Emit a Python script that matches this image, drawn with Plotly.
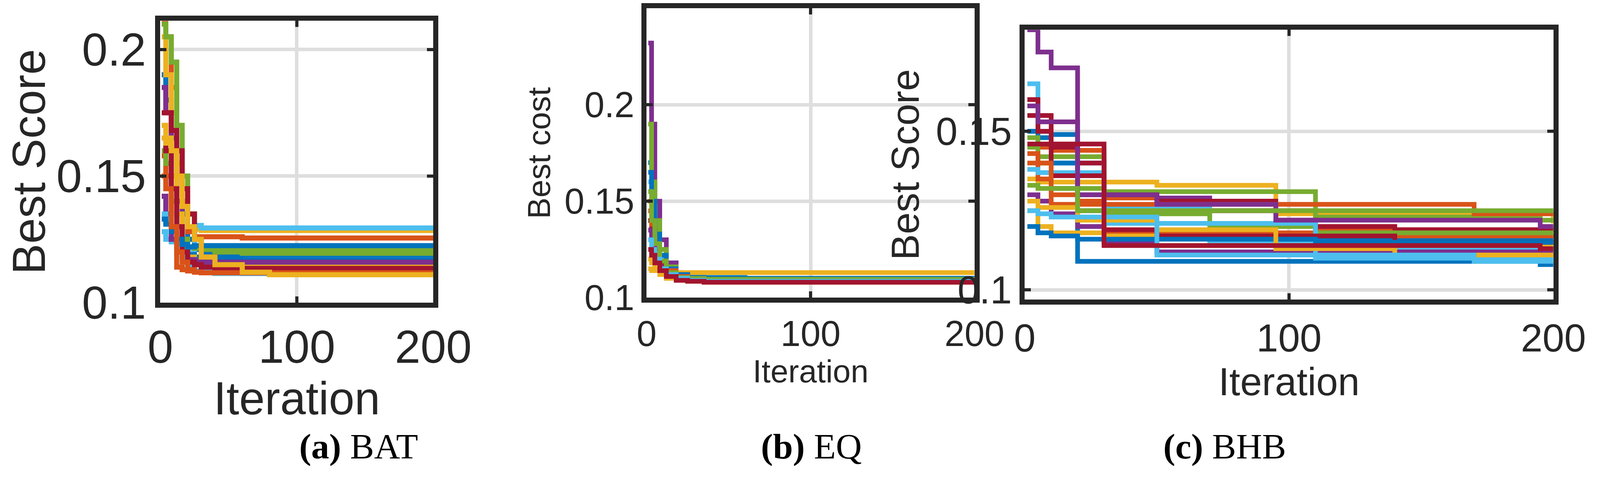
import plotly.graph_objects as go

COLORS = ["#0072BD", "#D95319", "#EDB120", "#7E2F8E", "#77AC30", "#4DBEEE", "#A2142F"]

# Panel (a) BAT
a_iter = [1, 4, 8, 12, 16, 20, 25, 30, 40, 60, 80, 200]
a_series = [
    [0.190, 0.180, 0.165, 0.150, 0.135, 0.125, 0.121, 0.120, 0.1195, 0.119, 0.119, 0.119],
    [0.211, 0.205, 0.185, 0.160, 0.140, 0.128, 0.126, 0.126, 0.126, 0.1255, 0.1255, 0.1255],
    [0.205, 0.190, 0.175, 0.155, 0.140, 0.130, 0.129, 0.1285, 0.1285, 0.1285, 0.1285, 0.1285],
    [0.185, 0.175, 0.160, 0.140, 0.125, 0.117, 0.115, 0.1145, 0.1145, 0.1145, 0.1145, 0.1145],
    [0.210, 0.205, 0.195, 0.170, 0.150, 0.135, 0.125, 0.121, 0.120, 0.1195, 0.1195, 0.1195],
    [0.128, 0.125, 0.124, 0.123, 0.122, 0.121, 0.1305, 0.1295, 0.1295, 0.1295, 0.1295, 0.1295],
    [0.175, 0.175, 0.168, 0.160, 0.145, 0.135, 0.125, 0.118, 0.116, 0.1115, 0.1115, 0.1115],
    [0.165, 0.155, 0.145, 0.135, 0.125, 0.119, 0.118, 0.1175, 0.1175, 0.117, 0.117, 0.117],
    [0.158, 0.150, 0.125, 0.114, 0.113, 0.1125, 0.1125, 0.1125, 0.1125, 0.1125, 0.1125, 0.1125],
    [0.170, 0.165, 0.150, 0.135, 0.125, 0.118, 0.1165, 0.116, 0.1155, 0.1155, 0.1155, 0.1155],
    [0.142, 0.135, 0.125, 0.120, 0.118, 0.117, 0.1165, 0.116, 0.116, 0.116, 0.116, 0.116],
    [0.160, 0.155, 0.140, 0.130, 0.125, 0.122, 0.1215, 0.1215, 0.121, 0.121, 0.121, 0.121],
    [0.135, 0.133, 0.130, 0.125, 0.118, 0.114, 0.1125, 0.112, 0.1115, 0.1115, 0.1115, 0.1115],
    [0.165, 0.160, 0.145, 0.130, 0.120, 0.116, 0.115, 0.114, 0.1135, 0.1135, 0.1135, 0.1135],
    [0.133, 0.131, 0.128, 0.125, 0.123, 0.122, 0.1225, 0.1225, 0.1225, 0.1225, 0.1225, 0.1225],
    [0.150, 0.145, 0.130, 0.120, 0.116, 0.113, 0.112, 0.1118, 0.1118, 0.1118, 0.1118, 0.1118],
    [0.165, 0.163, 0.160, 0.150, 0.138, 0.130, 0.125, 0.118, 0.115, 0.112, 0.111, 0.111],
]

# Panel (b) EQ
b_iter = [1, 3, 5, 8, 12, 18, 25, 35, 60, 200]
b_series = [
    [0.170, 0.150, 0.135, 0.125, 0.118, 0.113, 0.111, 0.1105, 0.110, 0.110],
    [0.150, 0.140, 0.130, 0.120, 0.114, 0.111, 0.110, 0.1095, 0.1095, 0.1095],
    [0.115, 0.114, 0.114, 0.113, 0.113, 0.113, 0.113, 0.113, 0.113, 0.113],
    [0.232, 0.190, 0.150, 0.130, 0.118, 0.112, 0.110, 0.1095, 0.1095, 0.1095],
    [0.190, 0.160, 0.140, 0.125, 0.116, 0.112, 0.110, 0.110, 0.110, 0.110],
    [0.160, 0.145, 0.130, 0.120, 0.114, 0.111, 0.1105, 0.110, 0.110, 0.110],
    [0.140, 0.135, 0.125, 0.118, 0.113, 0.111, 0.110, 0.1095, 0.1095, 0.1095],
    [0.165, 0.150, 0.133, 0.122, 0.115, 0.112, 0.1105, 0.110, 0.110, 0.110],
    [0.145, 0.138, 0.128, 0.119, 0.114, 0.111, 0.110, 0.1095, 0.1095, 0.1095],
    [0.120, 0.118, 0.115, 0.112, 0.110, 0.109, 0.1085, 0.108, 0.108, 0.108],
    [0.135, 0.130, 0.122, 0.116, 0.112, 0.110, 0.1095, 0.109, 0.109, 0.109],
    [0.155, 0.140, 0.128, 0.119, 0.113, 0.1105, 0.110, 0.1095, 0.1095, 0.1095],
    [0.130, 0.125, 0.120, 0.115, 0.112, 0.110, 0.109, 0.1085, 0.1085, 0.1085],
    [0.125, 0.122, 0.118, 0.114, 0.111, 0.109, 0.1085, 0.108, 0.108, 0.108],
]

# Panel (c) BHB
c_iter = [1, 5, 10, 20, 30, 50, 70, 95, 110, 140, 170, 195, 200]
c_series = [
    [0.150, 0.150, 0.149, 0.109, 0.109, 0.109, 0.109, 0.109, 0.109, 0.109, 0.109, 0.108, 0.108],
    [0.160, 0.145, 0.144, 0.144, 0.129, 0.125, 0.125, 0.125, 0.119, 0.119, 0.119, 0.117, 0.117],
    [0.135, 0.134, 0.134, 0.134, 0.134, 0.133, 0.133, 0.124, 0.124, 0.124, 0.124, 0.124, 0.121],
    [0.182, 0.175, 0.170, 0.130, 0.130, 0.129, 0.125, 0.120, 0.113, 0.113, 0.113, 0.112, 0.112],
    [0.145, 0.140, 0.132, 0.132, 0.131, 0.131, 0.131, 0.131, 0.123, 0.123, 0.123, 0.122, 0.122],
    [0.165, 0.150, 0.140, 0.140, 0.126, 0.126, 0.115, 0.115, 0.115, 0.113, 0.113, 0.113, 0.113],
    [0.160, 0.155, 0.145, 0.140, 0.130, 0.128, 0.128, 0.122, 0.120, 0.119, 0.119, 0.119, 0.119],
    [0.150, 0.148, 0.140, 0.125, 0.121, 0.121, 0.121, 0.116, 0.116, 0.116, 0.116, 0.116, 0.116],
    [0.140, 0.135, 0.130, 0.128, 0.118, 0.118, 0.118, 0.118, 0.118, 0.117, 0.117, 0.117, 0.117],
    [0.125, 0.120, 0.118, 0.118, 0.117, 0.114, 0.114, 0.114, 0.114, 0.114, 0.114, 0.114, 0.114],
    [0.130, 0.128, 0.124, 0.120, 0.115, 0.112, 0.112, 0.112, 0.112, 0.112, 0.112, 0.111, 0.111],
    [0.148, 0.142, 0.142, 0.142, 0.124, 0.124, 0.120, 0.120, 0.118, 0.118, 0.118, 0.118, 0.118],
    [0.138, 0.137, 0.137, 0.137, 0.121, 0.121, 0.121, 0.121, 0.110, 0.110, 0.110, 0.110, 0.110],
    [0.155, 0.150, 0.136, 0.136, 0.119, 0.117, 0.117, 0.117, 0.117, 0.115, 0.115, 0.115, 0.115],
    [0.120, 0.118, 0.117, 0.116, 0.116, 0.116, 0.116, 0.116, 0.115, 0.115, 0.115, 0.115, 0.115],
    [0.143, 0.140, 0.127, 0.127, 0.127, 0.127, 0.127, 0.127, 0.127, 0.127, 0.124, 0.124, 0.124],
    [0.128, 0.126, 0.126, 0.122, 0.122, 0.119, 0.119, 0.113, 0.113, 0.111, 0.111, 0.111, 0.111],
    [0.158, 0.153, 0.153, 0.130, 0.130, 0.127, 0.127, 0.122, 0.122, 0.122, 0.122, 0.120, 0.120],
    [0.133, 0.132, 0.132, 0.125, 0.125, 0.125, 0.125, 0.125, 0.125, 0.125, 0.125, 0.125, 0.125],
    [0.125, 0.124, 0.123, 0.123, 0.123, 0.111, 0.111, 0.111, 0.111, 0.111, 0.109, 0.109, 0.109],
    [0.146, 0.146, 0.146, 0.146, 0.114, 0.114, 0.114, 0.114, 0.114, 0.114, 0.114, 0.113, 0.113],
]

panels = [
    dict(it=a_iter, ser=a_series, xd=[0.092, 0.266], yd=[0.341, 0.97], yr=[0.1, 0.2113],
         tv=[0.1, 0.15, 0.2], tt=["0.1", "0.15", "0.2"], yl="Best Score", tf=118, lf=118, lw=13,
         cap="<b>(a)</b> BAT", cx=0.18),
    dict(it=b_iter, ser=b_series, xd=[0.402, 0.611], yd=[0.352, 0.998], yr=[0.1, 0.25],
         tv=[0.1, 0.15, 0.2, 0.25], tt=["0.1", "0.15", "0.2", "0.25"], yl="Best cost", tf=92, lf=82, lw=12,
         cap="<b>(b)</b> EQ", cx=0.507),
    dict(it=c_iter, ser=c_series, xd=[0.643, 0.98], yd=[0.348, 0.95], yr=[0.097, 0.182],
         tv=[0.1, 0.15], tt=["0.1", "0.15"], yl="Best Score", tf=100, lf=100, lw=12,
         cap="<b>(c)</b> BHB", cx=0.81),
]

fig = go.Figure()
for k, p in enumerate(panels):
    sfx = "" if k == 0 else str(k + 1)
    for i, s in enumerate(p["ser"]):
        fig.add_trace(go.Scatter(x=p["it"], y=s, mode="lines", line_shape="hv",
                                 line=dict(color=COLORS[i % 7], width=p["lw"]),
                                 xaxis="x" + sfx, yaxis="y" + sfx, showlegend=False))
    common = dict(showline=True, mirror="ticks", linecolor="#262626", linewidth=13,
                  ticks="inside", ticklen=16, tickwidth=8, tickcolor="#262626",
                  showgrid=True, gridcolor="#dedede", gridwidth=9, zeroline=False,
                  tickfont=dict(family="Liberation Sans, Arial", size=p["tf"], color="#262626"))
    fig.update_layout(**{
        "xaxis" + sfx: dict(domain=p["xd"], range=[0, 200], anchor="y" + sfx,
                            tickvals=[0, 100, 200], ticktext=["0", "100", "200"],
                            title=dict(text="Iteration", font=dict(family="Liberation Sans, Arial", size=p["lf"], color="#262626"), standoff=5),
                            **common),
        "yaxis" + sfx: dict(domain=p["yd"], range=p["yr"], anchor="x" + sfx,
                            tickvals=p["tv"], ticktext=p["tt"],
                            title=dict(text=p["yl"], font=dict(family="Liberation Sans, Arial", size=p["lf"], color="#262626"), standoff=15),
                            **common),
    })
    fig.add_annotation(text=p["cap"], x=p["cx"], y=0.02, xref="paper", yref="paper",
                       yanchor="middle", showarrow=False,
                       font=dict(family="Liberation Serif, Times New Roman", size=92, color="black"))

fig.update_layout(width=4147, height=1224, margin=dict(l=0, r=0, t=0, b=0),
                  paper_bgcolor="white", plot_bgcolor="white")
fig.write_html("out.html")
